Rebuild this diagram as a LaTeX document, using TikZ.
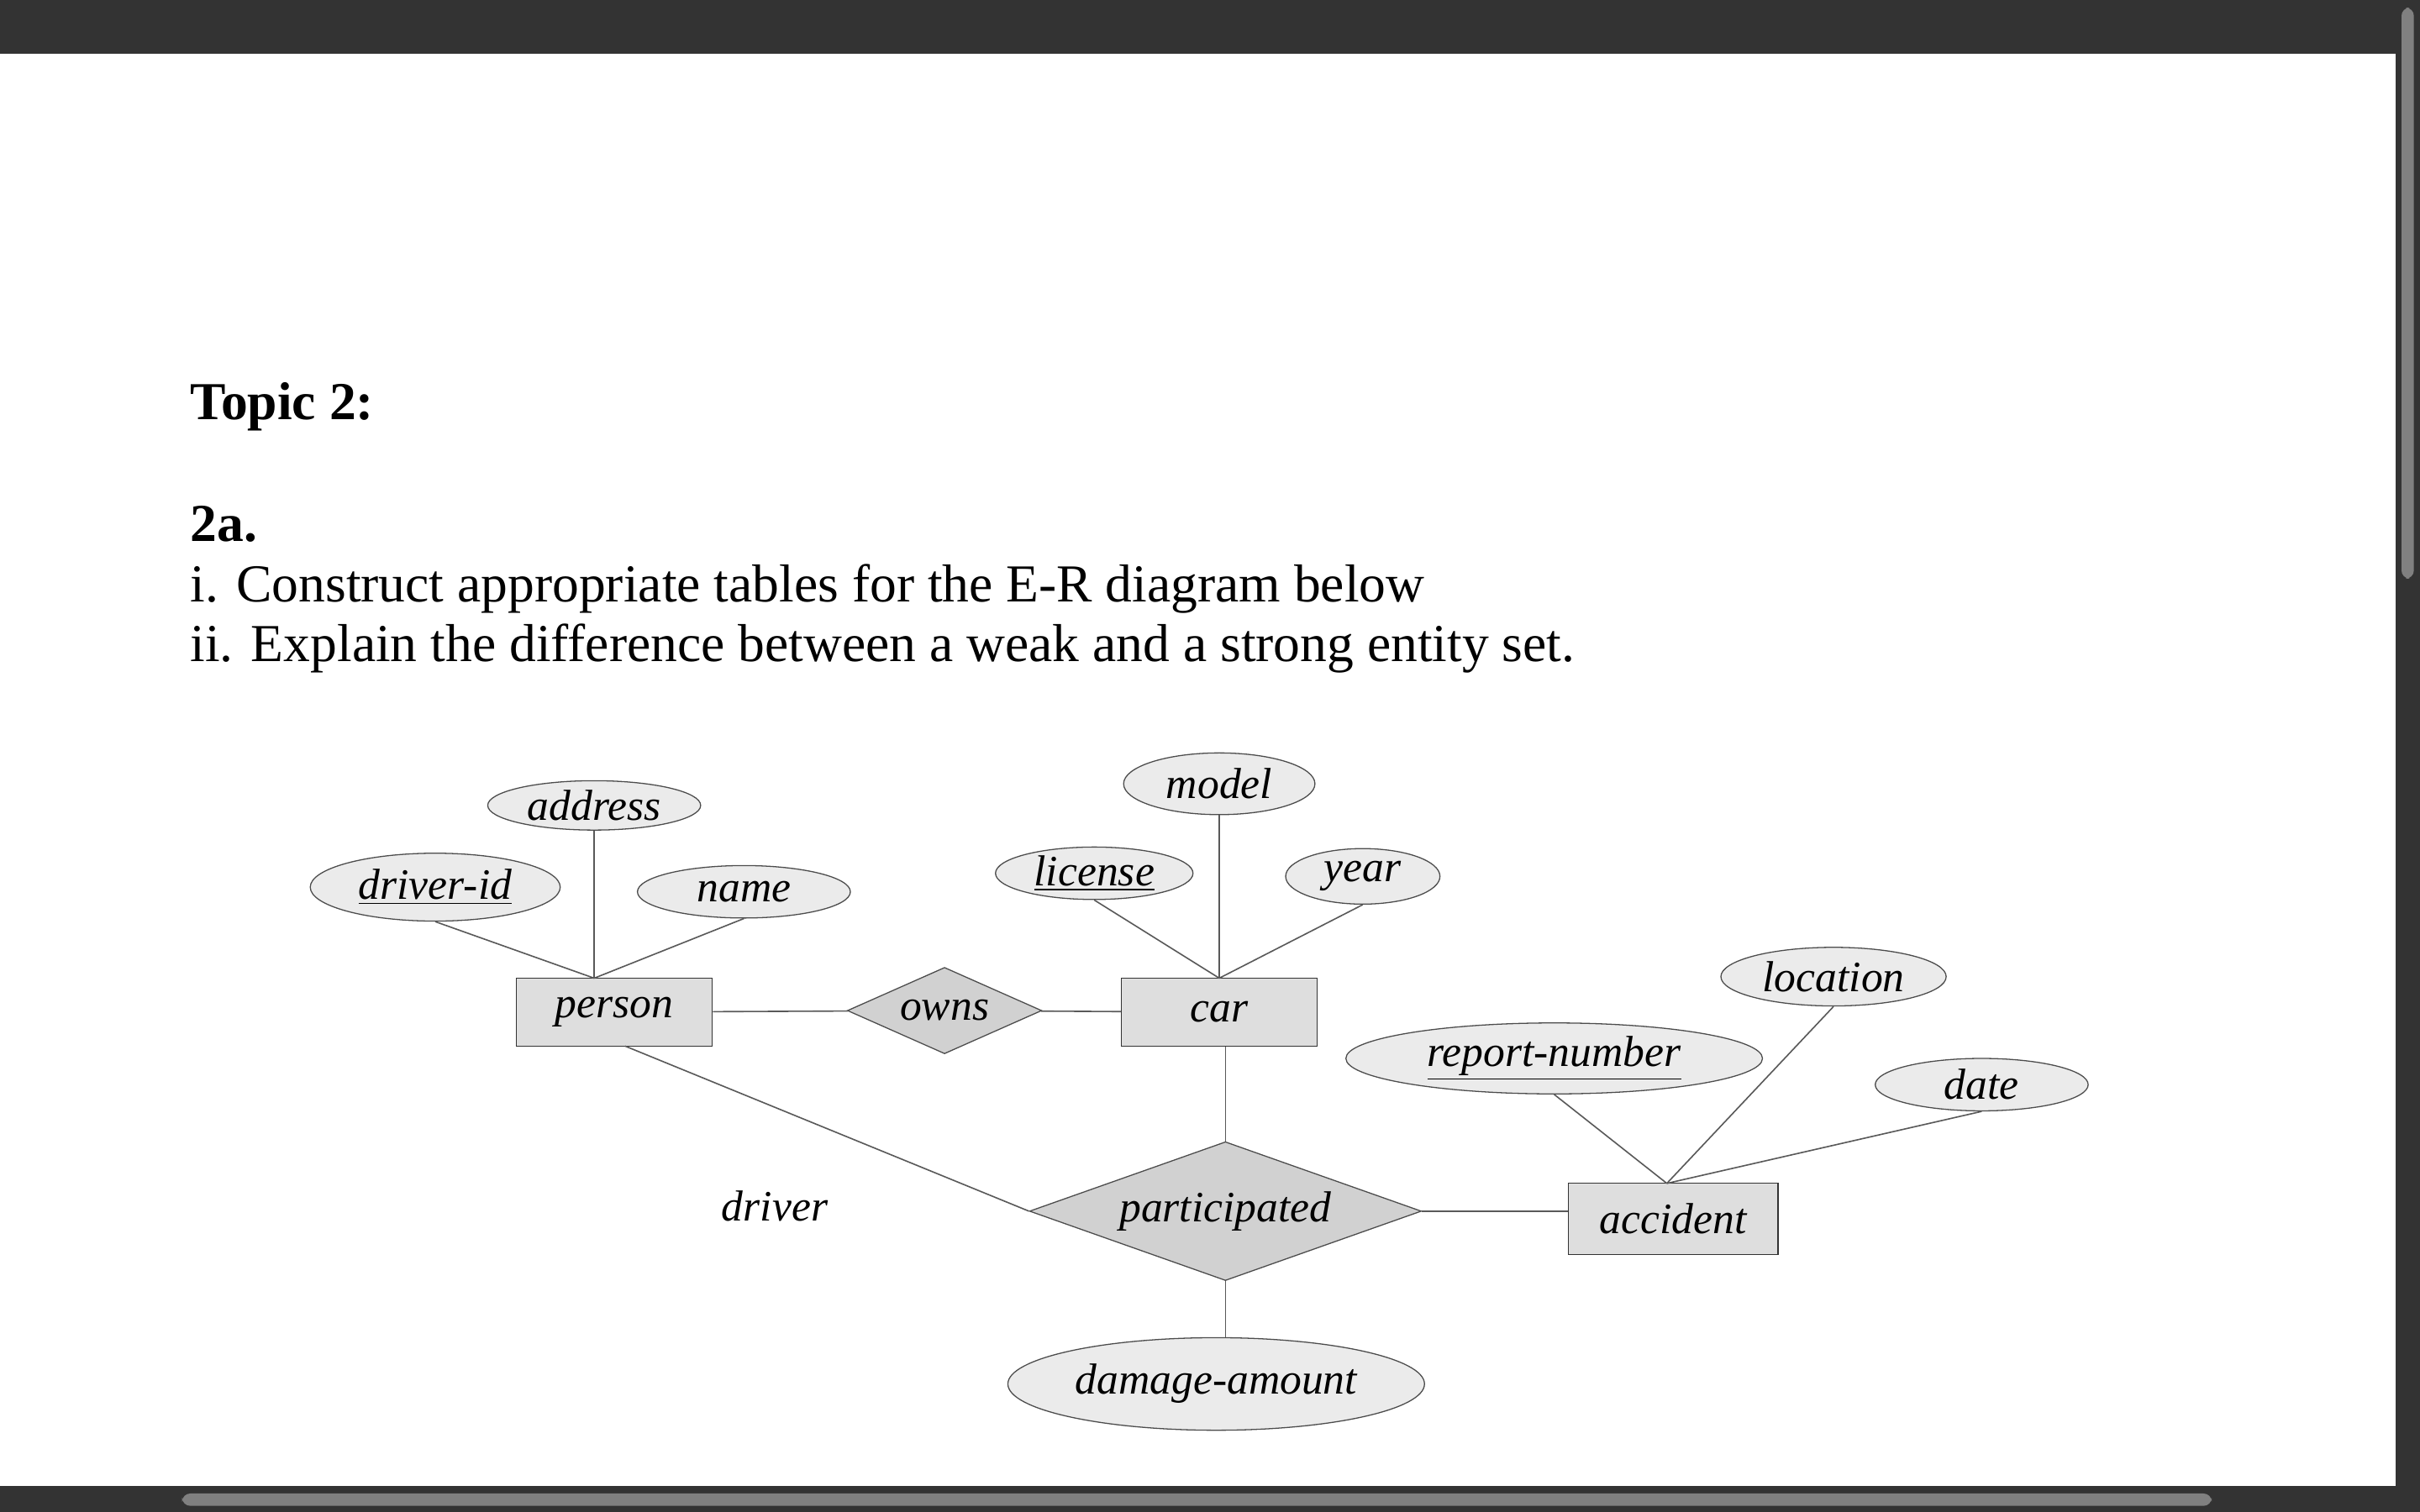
\documentclass[tikz,border=0pt]{standalone}
\usepackage{fontspec}
\setmainfont{Liberation Serif}
\usetikzlibrary{shapes.geometric}
\begin{document}
\begin{tikzpicture}[x=0.02cm,y=-0.02cm,
  ent/.style={draw=black!80,fill=black!13,rectangle,inner sep=0pt,font=\fontsize{16}{18}\selectfont\itshape},
  att/.style={draw=black!70,fill=black!8,ellipse,inner sep=0pt,font=\fontsize{16}{18}\selectfont\itshape},
  rel/.style={draw=black!70,fill=black!18,diamond,inner sep=0pt,font=\fontsize{16}{18}\selectfont\itshape},
  ln/.style={draw=black!65,line width=0.5pt},
  hd/.style={anchor=base west,inner sep=0pt,font=\fontsize{19.7}{22}\selectfont}]
\useasboundingbox (0,0) rectangle (1568,980);
\fill[black!80] (0,0) rectangle (1568,35);
\fill[black!80] (1552,0) rectangle (1568,980);
\fill[black!80] (0,963) rectangle (1568,980);
\fill[black!50,rounded corners=3pt] (118,968) rectangle (1433,976);
\fill[black!50,rounded corners=3pt] (1556,5) rectangle (1564,375);
\node[hd,font=\fontsize{19.7}{22}\selectfont\bfseries] (t1) at (123,272) {Topic 2:};
\node[hd,font=\fontsize{19.7}{22}\selectfont\bfseries] (t2) at (123,351) {2a.};
\node[hd] (t3) at (123,390) {i. Construct appropriate tables for the E-R diagram below};
\node[hd] (t4) at (123,429) {ii. Explain the difference between a weak and a strong entity set.};
\node[att,minimum width=2.76cm,minimum height=0.64cm] (address) at (385,522) {address};
\node[att,minimum width=3.24cm,minimum height=0.88cm] (did) at (282,575) {\underline{driver-id}};
\node[att,minimum width=2.76cm,minimum height=0.68cm] (name) at (482,578) {name};
\node[ent,minimum width=2.54cm,minimum height=0.88cm] (person) at (398,656) {person};
\node[rel,shape aspect=2.25,minimum width=2.52cm,minimum height=1.12cm] (owns) at (612,655) {owns};
\node[ent,minimum width=2.54cm,minimum height=0.88cm] (car) at (790,656) {car};
\node[att,minimum width=2.48cm,minimum height=0.8cm] (model) at (790,508) {model};
\node[att,minimum width=2.56cm,minimum height=0.68cm] (license) at (709,566) {\underline{license}};
\node[att,minimum width=2cm,minimum height=0.72cm] (year) at (883,568) {year};
\node[rel,shape aspect=2.8,minimum width=5.08cm,minimum height=1.8cm] (part) at (794,785) {participated};
\node[att,minimum width=5.4cm,minimum height=1.2cm] (dmg) at (788,897) {damage-amount};
\node[ent,minimum width=2.72cm,minimum height=0.92cm] (acc) at (1084,790) {accident};
\node[att,minimum width=5.4cm,minimum height=0.92cm] (rep) at (1007,686) {\underline{report-number}};
\node[att,minimum width=2.92cm,minimum height=0.76cm] (loc) at (1188,633) {location};
\node[att,minimum width=2.76cm,minimum height=0.68cm] (date) at (1284,703) {date};
\node[font=\fontsize{16}{18}\selectfont\itshape] (drv) at (502,782) {driver};
\coordinate (pt) at (385,634);
\coordinate (ct) at (790,634);
\coordinate (at) at (1080,767);
\draw[ln] (did.south) -- (pt);
\draw[ln] (address) -- (pt);
\draw[ln] (name.south) -- (pt);
\draw[ln] (person) -- (owns);
\draw[ln] (owns) -- (car);
\draw[ln] (license.south) -- (ct);
\draw[ln] (model) -- (ct);
\draw[ln] (year.south) -- (ct);
\draw[ln] (part.north) -- (part.north |- car.south);
\draw[ln] (405,678) -- (part.west);
\draw[ln] (part.east) -- (part.east -| acc.west);
\draw[ln] (part.south) -- (part.south |- dmg.north);
\draw[ln] (rep.south) -- (at);
\draw[ln] (loc.south) -- (at);
\draw[ln] (date.south) -- (at);
\end{tikzpicture}
\end{document}
